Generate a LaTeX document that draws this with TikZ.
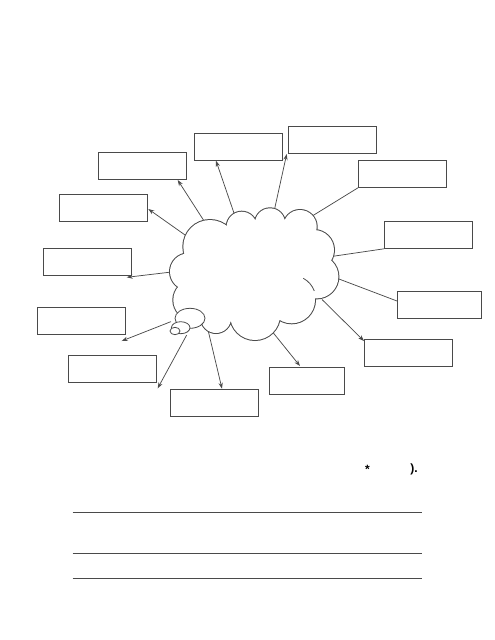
\documentclass[tikz,border=0pt]{standalone}
\usepackage{fontspec}
\setmainfont{Liberation Sans}
\usetikzlibrary{arrows.meta}
\definecolor{ink}{HTML}{4A4A4A}
\tikzset{
  box/.style={draw=ink, line width=0.6pt, minimum width=88*0.75pt, minimum height=27*0.75pt, inner sep=0pt, anchor=north west},
  conn/.style={draw=ink, line width=0.55pt},
  arr/.style={conn, -{Stealth[length=4.5pt,width=3.2pt]}},
  puff/.style={draw=ink, line width=1.5pt},
  bubble/.style={draw=ink, fill=white, line width=0.6pt},
}
\begin{document}
\begin{tikzpicture}[x=0.75pt,y=-0.75pt]
\useasboundingbox (0,0) rectangle (495,640);
% boxes
\node[box] (A) at (98,152) {};
\node[box] (B) at (59,194) {};
\node[box] (C) at (43,248) {};
\node[box] (D) at (194,133) {};
\node[box] (E) at (288,126) {};
\node[box] (F) at (358,160) {};
\node[box] (G) at (384,221) {};
\node[box, minimum width=84*0.75pt] (K) at (397,291) {};
\node[box] (L) at (364,339) {};
\node[box, minimum width=75*0.75pt] (M) at (269,367) {};
\node[box] (J) at (170,389) {};
\node[box] (I) at (68,355) {};
\node[box] (H) at (37,307) {};
% connector ends
\coordinate (sA) at (206,224);   \coordinate (tA) at (177.7,180);
\coordinate (sB) at (190,238.5); \coordinate (tB) at (148.3,209);
\coordinate (sC) at (175,271.6); \coordinate (tC) at (126.7,277.3);
\coordinate (sD) at (235,216);   \coordinate (tD) at (216,160.7);
\coordinate (sE) at (273.5,214); \coordinate (tE) at (286.7,154);
\coordinate (sF) at (308,218.6);
\coordinate (sG) at (326,257.3);
\coordinate (sK) at (330,275.6);
\coordinate (sL) at (322,299.5); \coordinate (tL) at (364,341);
\coordinate (sM) at (273.4,333); \coordinate (tM) at (300,366);
\coordinate (sJ) at (208.5,332); \coordinate (tJ) at (222,388.7);
\coordinate (sI) at (186.7,335); \coordinate (tI) at (157.7,388.3);
\coordinate (sH) at (171,321.6); \coordinate (tH) at (121.7,341);
\draw[arr] (sA) -- (tA);
\draw[arr] (sB) -- (tB);
\draw[arr] (sC) -- (tC);
\draw[arr] (sD) -- (tD);
\draw[arr] (sE) -- (tE);
\draw[conn] (sF) -- (F.south west);
\draw[conn] (sG) -- (G.south west);
\draw[conn] (sK) -- ([yshift=-7.5pt]K.north west);
\draw[arr] (sL) -- (tL);
\draw[arr] (sM) -- (tM);
\draw[arr] (sJ) -- (tJ);
\draw[arr] (sI) -- (tI);
\draw[arr] (sH) -- (tH);
% cloud: stroke all puffs, then fill them white
\def\puffs{
  (210,246.7) circle[radius=26.7]
  (241.7,226.7) circle[radius=15]
  (270,223.3) circle[radius=15]
  (300,226.7) circle[radius=16.7]
  (314,250) circle[radius=20]
  (316.7,276.7) circle[radius=21.7]
  (291.7,300) circle[radius=23.3]
  (255,315) circle[radius=25]
  (216,318) circle[radius=15]
  (193.3,300) circle[radius=20]
  (188.3,271.7) circle[radius=18.3]
}
\path[puff] \puffs;
\fill[white] \puffs;
\fill[white] (210,246.7) -- (241.7,226.7) -- (270,223.3) -- (300,226.7) -- (314,250) -- (316.7,276.7) -- (291.7,300) -- (255,315) -- (216,318) -- (193.3,300) -- (188.3,271.7) -- cycle;
\draw[ink, line width=0.6pt] (303.3,278.3) arc[start angle=-62, end angle=-20, radius=23.3];
% thought bubbles
\draw[bubble] (190,318.3) ellipse[x radius=15, y radius=10];
\draw[bubble] (180.7,327.7) ellipse[x radius=9.3, y radius=6];
\draw[bubble] (175,331) ellipse[x radius=5, y radius=3.7];
% text and lines
\node[font=\fontsize{9}{10}\selectfont\bfseries] (star) at (367.5,469) {*};
\node[font=\fontsize{9}{10}\selectfont\bfseries] (paren) at (414,469) {).};
\coordinate (l1a) at (72.7,512.7); \coordinate (l1b) at (421.7,512.7);
\coordinate (l2a) at (72.7,553.3); \coordinate (l2b) at (421.7,553.3);
\coordinate (l3a) at (72.7,578.3); \coordinate (l3b) at (421.7,578.3);
\draw[conn, line width=0.7pt] (l1a) -- (l1b);
\draw[conn, line width=0.7pt] (l2a) -- (l2b);
\draw[conn, line width=0.7pt] (l3a) -- (l3b);
\end{tikzpicture}
\end{document}
